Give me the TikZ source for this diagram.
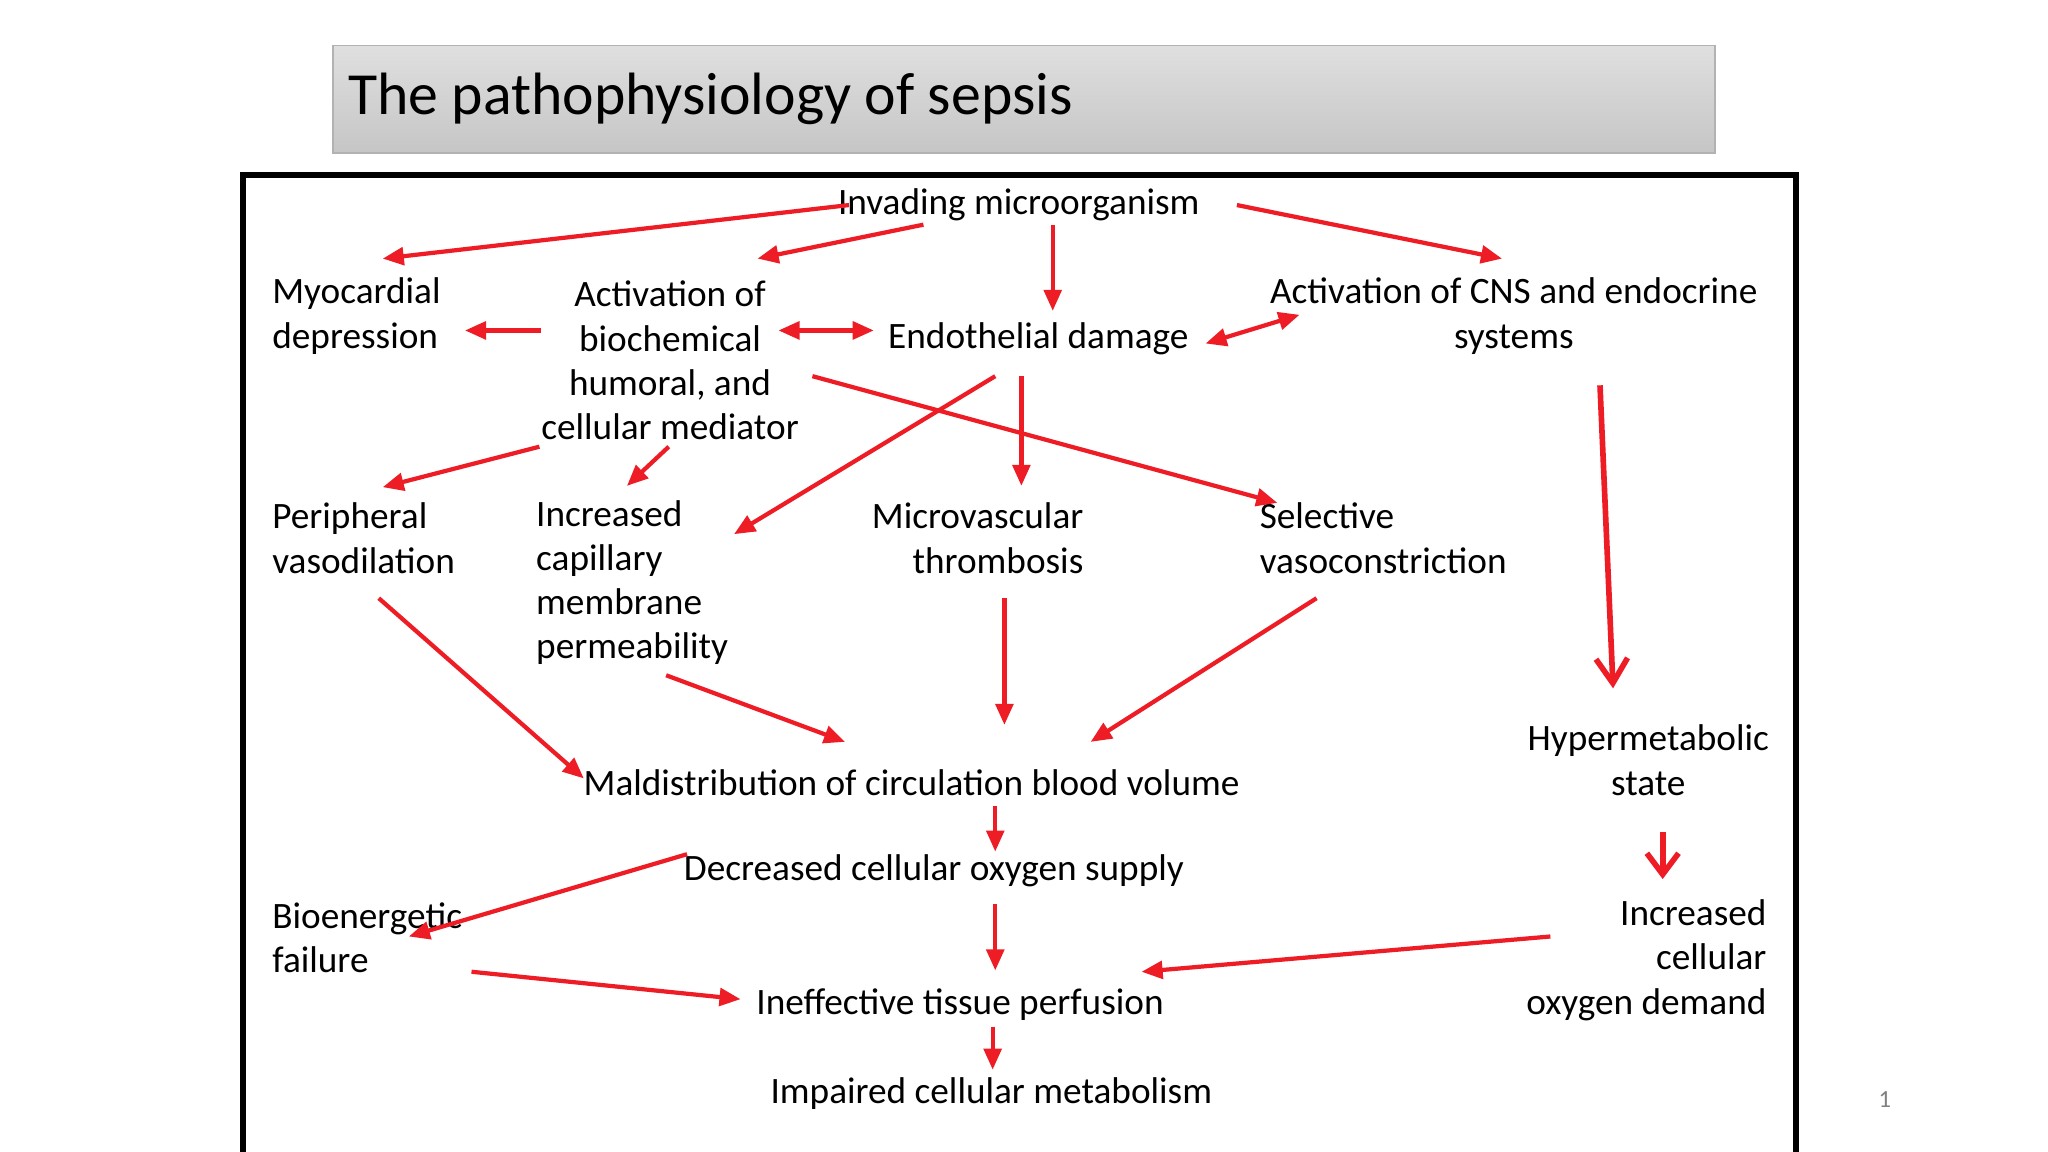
\documentclass[tikz,border=0pt]{standalone}
\usepackage{fontspec}
\setmainfont{Carlito}
\usetikzlibrary{arrows.meta}
\definecolor{ar}{HTML}{EE1C25}
\begin{document}
\begin{tikzpicture}[x=0.01306cm,y=-0.01306cm,
  t/.style={inner sep=0pt,font=\fontsize{10.6pt}{12.6pt}\selectfont},
  tl/.style={t,align=left},
  tc/.style={t,align=center},
  a/.style={draw=ar,line width=1.2pt,-{Triangle[length=6pt,width=5pt]}},
  aa/.style={draw=ar,line width=1.2pt,{Triangle[length=6pt,width=5pt]}-{Triangle[length=6pt,width=5pt]}}]
\useasboundingbox (0,0) rectangle (1568,882);
\fill[white] (0,0) rectangle (1568,882);
\shade[top color=gray!25,bottom color=gray!45,draw=gray!60] (255,35) rectangle (1313,117);
\node[anchor=west,inner sep=0pt,font=\fontsize{17pt}{20pt}\selectfont] (title) at (266,76) {The pathophysiology of sepsis};
\draw[line width=1.6pt] (186,900) -- (186,134) -- (1375,134) -- (1375,900);
\node[text=gray,font=\fontsize{7pt}{8pt}\selectfont] (pg) at (1443,842) {1};

\node[tc] (inv) at (780,157) {Invading microorganism};
\node[tl,anchor=west] (myo) at (208,242) {Myocardial\\depression};
\node[tc] (act) at (513,276) {Activation of\\biochemical\\humoral, and\\cellular mediator};
\node[tc] (endo) at (795,259) {Endothelial damage};
\node[tc] (cns) at (1159,242) {Activation of CNS and endocrine\\systems};
\node[tl,anchor=west] (per) at (208,412) {Peripheral\\vasodilation};
\node[tl,anchor=west] (inc) at (410,446) {Increased\\capillary\\membrane\\permeability};
\node[t,align=right,anchor=east] (mic) at (830,412) {Microvascular\\thrombosis};
\node[tl,anchor=west] (sel) at (964,412) {Selective\\vasoconstriction};
\node[tc] (hyp) at (1262,582) {Hypermetabolic\\state};
\node[tc] (mal) at (698,599) {Maldistribution of circulation blood volume};
\node[tc] (dec) at (715,667) {Decreased cellular oxygen supply};
\node[tl,anchor=west] (bio) at (208,718) {Bioenergetic\\failure};
\node[t,align=right,anchor=east] (icod) at (1353,735) {Increased\\cellular\\oxygen demand};
\node[tc] (ine) at (735,769) {Ineffective tissue perfusion};
\node[tc] (imp) at (759,837) {Impaired cellular metabolism};

\draw[a] (650,157) -- (293,198);
\draw[a] (707,172) -- (580,198);
\draw[a] (806,172) -- (806,238);
\draw[a] (947,157) -- (1150,198);
\draw[a] (414,253) -- (356,253);
\draw[aa] (596,253) -- (669,253);
\draw[aa] (923,263) -- (995,241);
\draw[draw=ar,line width=1.6pt,-{Straight Barb[length=7pt,width=9pt]}] (1225,295) -- (1235,527);
\draw[a] (762,288) -- (562,409);
\draw[a] (782,288) -- (782,372);
\draw[a] (622,288) -- (978,385);
\draw[a] (413,342) -- (293,373);
\draw[a] (512,342) -- (480,372);
\draw[a] (290,458) -- (447,596);
\draw[a] (510,517) -- (647,568);
\draw[a] (769,458) -- (769,555);
\draw[a] (1008,458) -- (835,568);
\draw[a] (762,617) -- (762,652);
\draw[draw=ar,line width=1.6pt,-{Straight Barb[length=6pt,width=9pt]}] (1273,637) -- (1273,673);
\draw[a] (526,654) -- (313,717);
\draw[a] (762,692) -- (762,743);
\draw[a] (361,744) -- (567,765);
\draw[a] (1187,717) -- (874,744);
\draw[a] (760,786) -- (760,819);
\end{tikzpicture}
\end{document}
